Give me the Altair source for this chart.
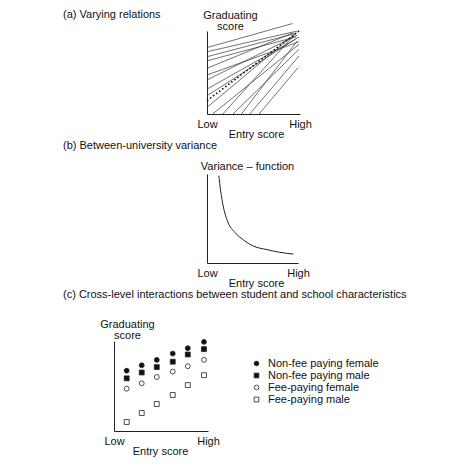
import altair as alt
import pandas as pd

FONT = "Liberation Sans"
FS = 11

# ---------- panel (a): varying relations (line segments, entry -> graduating) ----------
a_x0 = [0, 0, 0, 0, 0, 0, 0, 0, 0, 0.06, 0.17, 0.28, 0.37, 0.46, 0.56, 0]
a_y0 = [0.80, 0.75, 0.69, 0.64, 0.55, 0.41, 0.30, 0.22, 0.08, 0, 0, 0, 0, 0, 0, 0.47]
a_x1 = [0.92, 0.97, 0.95, 0.96, 0.93, 0.97, 0.95, 0.99, 0.94, 0.99, 0.96, 0.99, 0.97, 0.99, 0.98, 0.99]
a_y1 = [1.09, 1.00, 0.97, 0.93, 0.98, 0.95, 0.90, 0.93, 0.96, 0.84, 0.98, 0.78, 0.88, 0.70, 0.56, 0.87]
mean_x0, mean_y0, mean_x1, mean_y1 = [0], [0.16], [0.99], [1.00]

# ---------- panel (b): between-university variance ----------
var_x = [0.13, 0.15, 0.18, 0.23, 0.31, 0.40, 0.51, 0.66, 0.80, 0.95]
var_y = [0.98, 0.81, 0.63, 0.46, 0.34, 0.26, 0.19, 0.15, 0.12, 0.10]

# ---------- panel (c): cross-level interactions ----------
entry = [0.135, 0.295, 0.455, 0.625, 0.785, 0.957]
groups = ["Non-fee paying female", "Non-fee paying male", "Fee-paying female", "Fee-paying male"]
nf_female = [0.67, 0.73, 0.79, 0.86, 0.92, 0.99]
nf_male = [0.585, 0.65, 0.71, 0.77, 0.85, 0.91]
fp_female = [0.47, 0.53, 0.60, 0.66, 0.72, 0.79]
fp_male = [0.10, 0.20, 0.30, 0.40, 0.51, 0.62]

titles = ["(a) Varying relations", "(b) Between-university variance",
          "(c) Cross-level interactions between student and school characteristics"]
x_ticks = ["Low", "High"]


def x_axis(offset, title_x):
    return alt.Axis(values=[0, 1],
                    labelExpr=f"datum.value == 0 ? '{x_ticks[0]}' : '{x_ticks[1]}'",
                    ticks=False, tickSize=0, grid=False, labelFlush=False, labelOverlap=False,
                    domainColor="#222", domainWidth=1,
                    labelFont=FONT, labelFontSize=FS, labelColor="#111",
                    labelBaseline="alphabetic", labelPadding=13.5,
                    title="Entry score", titleFont=FONT, titleFontSize=FS, titleFontWeight="normal",
                    titleColor="#111", titleBaseline="alphabetic", titleAlign="center",
                    titleX=title_x, titleY=23, offset=offset)


def y_axis(offset, title, tx, ty):
    return alt.Axis(labels=False, ticks=False, tickSize=0, grid=False,
                    domainColor="#222", domainWidth=1,
                    title=title, titleAngle=0, titleFont=FONT, titleFontSize=FS,
                    titleFontWeight="normal", titleColor="#111", titleAlign="center",
                    titleBaseline="alphabetic", titleLineHeight=11,
                    titleX=tx, titleY=ty, offset=offset)


def ptitle(t):
    # panel heading drawn as a text mark at the panel's top-left
    return alt.Chart(pd.DataFrame({"t": [t]})).mark_text(
        align="left", baseline="alphabetic", font=FONT, fontSize=FS, color="#111"
    ).encode(text="t:N", x=alt.value(0), y=alt.value(8.5))


W = 400

# ---- panel A ----
HA = 130.5
A_BOTTOM = 105
xa = alt.Scale(domain=[0, 1], range=[144, 237], nice=False, zero=False)
ya = alt.Scale(domain=[0, 1], range=[A_BOTTOM, 22], nice=False, zero=False)
dfa = pd.DataFrame({"x0": a_x0, "y0": a_y0, "x1": a_x1, "y1": a_y1})
dfm = pd.DataFrame({"x0": mean_x0, "y0": mean_y0, "x1": mean_x1, "y1": mean_y1})
axes_a = alt.Chart(pd.DataFrame({"x": [0], "y": [0]})).mark_point(opacity=0).encode(
    x=alt.X("x:Q", scale=xa, axis=x_axis(-(HA - A_BOTTOM), 193)),
    y=alt.Y("y:Q", scale=ya, axis=y_axis(-144, ["Graduating", "score"], 23, 9)))
lines_a = alt.Chart(dfa).mark_rule(color="#333", strokeWidth=0.7).encode(
    x=alt.X("x0:Q", scale=xa), y=alt.Y("y0:Q", scale=ya), x2="x1:Q", y2="y1:Q")
mean_a = alt.Chart(dfm).mark_rule(color="#111", strokeWidth=1.6, strokeDash=[1.6, 2.2]).encode(
    x=alt.X("x0:Q", scale=xa), y=alt.Y("y0:Q", scale=ya), x2="x1:Q", y2="y1:Q")
panel_a = alt.layer(axes_a, lines_a, mean_a, ptitle(titles[0])).properties(width=W, height=HA)

# ---- panel B ----
HB = 149
xb = alt.Scale(domain=[0, 1], range=[144, 235], nice=False, zero=False)
yb = alt.Scale(domain=[0, 1], range=[123, 34], nice=False, zero=False)
dfb = pd.DataFrame({"x": var_x, "y": var_y})
curve_b = alt.Chart(dfb).mark_line(color="#222", strokeWidth=1, interpolate="monotone").encode(
    x=alt.X("x:Q", scale=xb, axis=x_axis(-(HB - 123), 193)),
    y=alt.Y("y:Q", scale=yb, axis=y_axis(-144, "Variance \u2013 function", 40, 29)),
)
panel_b = alt.layer(curve_b, ptitle(titles[1])).properties(width=W, height=HB)

# ---- panel C ----
HC = 142
xc = alt.Scale(domain=[0, 1], range=[51, 145], nice=False, zero=False)
yc = alt.Scale(domain=[0, 1], range=[142, 52], nice=False, zero=False)
rows = []
for g, vals in zip(groups, [nf_female, nf_male, fp_female, fp_male]):
    for e, v in zip(entry, vals):
        rows.append({"entry": e, "score": v, "group": g})
dfc = pd.DataFrame(rows)
leg = alt.Legend(title=None, orient="none", legendX=188, legendY=349)
points_c = alt.Chart(dfc).mark_point(size=24, strokeWidth=0.8, opacity=1).encode(
    x=alt.X("entry:Q", scale=xc, axis=x_axis(0, 97)),
    y=alt.Y("score:Q", scale=yc, axis=y_axis(-51, ["Graduating", "score"], 13, 38)),
    shape=alt.Shape("group:N", scale=alt.Scale(domain=groups, range=["circle", "square", "circle", "square"]),
                    legend=leg),
    fill=alt.Fill("group:N", scale=alt.Scale(domain=groups, range=["#111", "#111", "white", "white"]),
                  legend=leg),
    stroke=alt.Stroke("group:N", scale=alt.Scale(domain=groups, range=["#222", "#222", "#222", "#222"]),
                      legend=leg),
)
panel_c = alt.layer(points_c, ptitle(titles[2])).properties(width=W, height=HC)

chart = alt.vconcat(panel_a, panel_b, panel_c, spacing=0, bounds="flush").properties(
    padding={"left": 55, "top": 0, "right": 2, "bottom": 2}
).configure_view(stroke=None).configure_legend(
    labelFont=FONT, labelFontSize=FS, labelColor="#111", labelOffset=6,
    symbolSize=22, symbolStrokeWidth=0.8, rowPadding=0, padding=0
)

chart.save("out.html", embed_options={"renderer": "svg", "actions": False})
